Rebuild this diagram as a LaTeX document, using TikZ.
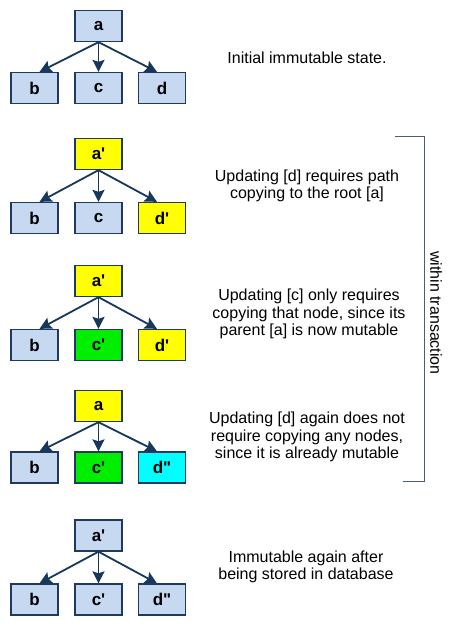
\documentclass[tikz,border=0pt]{standalone}
\usepackage{fontspec}
\setmainfont{Liberation Sans}
\usepackage{tikz}
\usetikzlibrary{arrows.meta}
\definecolor{boxblue}{HTML}{C6D9F1}
\definecolor{boxline}{HTML}{1F3A5F}
\definecolor{arrowblue}{HTML}{17375E}
\definecolor{newyellow}{HTML}{FFFF00}
\definecolor{newgreen}{HTML}{00EE00}
\definecolor{newcyan}{HTML}{00FFFF}
\definecolor{brackline}{HTML}{4A5E78}

\begin{document}
\begin{tikzpicture}[x=1pt,y=-1pt]
		\tikzstyle{NodeStyle}=[draw=boxline,line width=1.3pt,fill=boxblue,minimum width=47pt,minimum height=31pt,inner sep=0pt,font=\fontsize{17}{19}\selectfont\bfseries]
		\tikzstyle{EdgeStyle}=[draw=arrowblue,line width=1.8pt,-{Stealth[length=12pt,width=12pt,inset=2pt]}]
		\tikzstyle{NoteStyle}=[align=center,font=\fontsize{16}{17.7}\selectfont]
		\useasboundingbox (0,0) rectangle (451,627);
		% initial state
		\node[NodeStyle] (a1) at (98.5,26) {a};
		\node[NodeStyle] (b1) at (34.5,88) {b};
		\node[NodeStyle] (c1) at (98.5,88) {c};
		\node[NodeStyle] (d1) at (162,88) {d};
		\node[NoteStyle] (t1) at (307,58) {Initial immutable state.};
		% update d
		\node[NodeStyle,fill=newyellow] (a2) at (98.5,154) {a\textquotesingle};
		\node[NodeStyle] (b2) at (34.5,218) {b};
		\node[NodeStyle] (c2) at (98.5,218) {c};
		\node[NodeStyle,fill=newyellow] (d2) at (162,218) {d\textquotesingle};
		\node[NoteStyle] (t2) at (307,186) {Updating [d] requires path\\copying to the root [a]};
		% update c
		\node[NodeStyle,fill=newyellow] (a3) at (98.5,281) {a\textquotesingle};
		\node[NodeStyle] (b3) at (34.5,345) {b};
		\node[NodeStyle,fill=newgreen] (c3) at (98.5,345) {c\textquotesingle};
		\node[NodeStyle,fill=newyellow] (d3) at (162,345) {d\textquotesingle};
		\node[NoteStyle] (t3) at (309,314) {Updating [c] only requires\\copying that node, since its\\parent [a] is now mutable};
		% update d again
		\node[NodeStyle,fill=newyellow] (a4) at (98.5,406) {a};
		\node[NodeStyle] (b4) at (34.5,467.5) {b};
		\node[NodeStyle,fill=newgreen] (c4) at (98.5,467.5) {c\textquotesingle};
		\node[NodeStyle,fill=newcyan] (d4) at (162,467.5) {d\textquotedbl};
		\node[NoteStyle] (t4) at (307,437) {Updating [d] again does not\\require copying any nodes,\\since it is already mutable};
		% stored
		\node[NodeStyle] (a5) at (98.5,535.5) {a\textquotesingle};
		\node[NodeStyle] (b5) at (34.5,599.5) {b};
		\node[NodeStyle] (c5) at (98.5,599.5) {c\textquotesingle};
		\node[NodeStyle] (d5) at (162,599.5) {d\textquotedbl};
		\node[NoteStyle] (t5) at (306,567) {Immutable again after\\being stored in database};
		\draw[EdgeStyle] (a1.south) -- ([xshift=5pt]b1.north);
		\draw[EdgeStyle] (a1.south) -- (c1.north);
		\draw[EdgeStyle] (a1.south) -- ([xshift=-5pt]d1.north);
		\draw[EdgeStyle] (a2.south) -- ([xshift=5pt]b2.north);
		\draw[EdgeStyle] (a2.south) -- (c2.north);
		\draw[EdgeStyle] (a2.south) -- ([xshift=-5pt]d2.north);
		\draw[EdgeStyle] (a3.south) -- ([xshift=5pt]b3.north);
		\draw[EdgeStyle] (a3.south) -- (c3.north);
		\draw[EdgeStyle] (a3.south) -- ([xshift=-5pt]d3.north);
		\draw[EdgeStyle] (a4.south) -- ([xshift=5pt]b4.north);
		\draw[EdgeStyle] (a4.south) -- (c4.north);
		\draw[EdgeStyle] (a4.south) -- ([xshift=-5pt]d4.north);
		\draw[EdgeStyle] (a5.south) -- ([xshift=5pt]b5.north);
		\draw[EdgeStyle] (a5.south) -- (c5.north);
		\draw[EdgeStyle] (a5.south) -- ([xshift=-5pt]d5.north);
		% transaction bracket
		\coordinate (brtop) at (395,136);
		\coordinate (brbot) at (403,481);
		\draw[brackline,line width=1pt] (brtop) -- (424,136) -- (424,481) -- (brbot);
		\node[NoteStyle,rotate=-90] (within) at (436,313) {within transaction};
	\end{tikzpicture}
\end{document}
